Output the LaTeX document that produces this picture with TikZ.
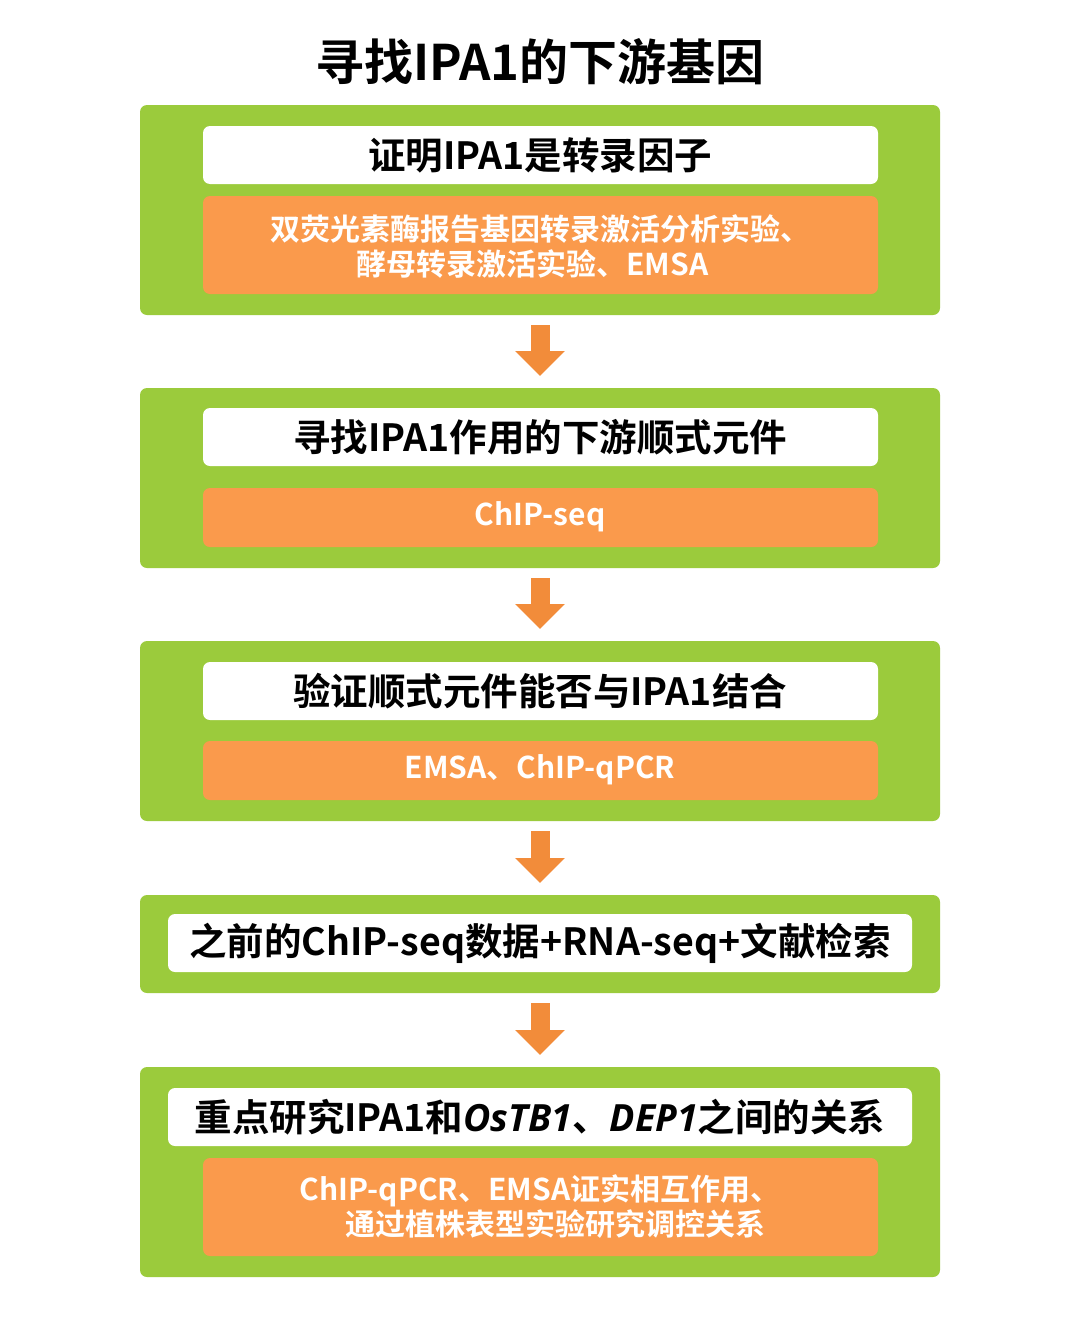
\documentclass[tikz,border=0pt]{standalone}
\usepackage{fontspec}
\setmainfont{Noto Sans CJK SC}[BoldFont={* Bold}]
\newfontfamily\latit{Open Sans}[BoldItalicFont={* Bold Italic}]
\usetikzlibrary{arrows.meta}
\definecolor{gr}{HTML}{9BCB3C}
\definecolor{og}{HTML}{FA9A4C}
\definecolor{ar}{HTML}{F28C3A}
\tikzset{
 grbox/.style={fill=gr,rounded corners=7pt,inner sep=0},
 whbox/.style={fill=white,rounded corners=7pt,font=\fontsize{37.5}{42}\selectfont\bfseries,text=black},
 obox/.style={fill=og,rounded corners=7pt,font=\fontsize{30}{35}\selectfont\bfseries,text=white,align=center},
 arr/.style={ar,line width=19pt,-{Triangle[width=48pt,length=25pt]},shorten <=10pt,shorten >=12pt}
}
\begin{document}
\begin{tikzpicture}[x=1pt,y=-1pt]
\useasboundingbox (0,0) rectangle (1080,1317);
\node[font=\fontsize{49}{54}\selectfont\bfseries] (title) at (540,62) {寻找IPA1的下游基因};
% box1
\fill[grbox] (140,105) rectangle (940,315);
\coordinate (b1t) at (540,105); \coordinate (b1b) at (540,315);
\fill[white,rounded corners=7pt] (203,126) rectangle (878,184);
\node[whbox] (w1) at (540,155) {证明IPA1是转录因子};
\fill[og,rounded corners=7pt] (203,196) rectangle (878,294);
\node[obox] (o1) at (540,246) {双荧光素酶报告基因转录激活分析实验、\\\hspace*{-0.5em}酵母转录激活实验、EMSA};
% box2
\fill[grbox] (140,388) rectangle (940,568);
\coordinate (b2t) at (540,388); \coordinate (b2b) at (540,568);
\fill[white,rounded corners=7pt] (203,408) rectangle (878,466);
\node[whbox] (w2) at (540,437) {寻找IPA1作用的下游顺式元件};
\fill[og,rounded corners=7pt] (203,488) rectangle (878,547);
\node[obox] (o2) at (540,517) {ChIP-seq};
% box3
\fill[grbox] (140,641) rectangle (940,821);
\coordinate (b3t) at (540,641); \coordinate (b3b) at (540,821);
\fill[white,rounded corners=7pt] (203,662) rectangle (878,720);
\node[whbox] (w3) at (540,691) {验证顺式元件能否与IPA1结合};
\fill[og,rounded corners=7pt] (203,741) rectangle (878,800);
\node[obox] (o3) at (540,770) {EMSA、ChIP-qPCR};
% box4
\fill[grbox] (140,895) rectangle (940,993);
\coordinate (b4t) at (540,895); \coordinate (b4b) at (540,993);
\fill[white,rounded corners=7pt] (168,914) rectangle (912,972);
\node[whbox] (w4) at (540,943) {之前的ChIP-seq数据+RNA-seq+文献检索};
% box5
\fill[grbox] (140,1067) rectangle (940,1277);
\coordinate (b5t) at (540,1067);
\fill[white,rounded corners=7pt] (168,1088) rectangle (912,1146);
\node[whbox] (w5) at (540,1117) {重点研究IPA1和{\latit\bfseries\itshape OsTB1}、{\latit\bfseries\itshape DEP1}之间的关系};
\fill[og,rounded corners=7pt] (203,1158) rectangle (878,1256);
\node[obox] (o5) at (540,1207) {ChIP-qPCR、EMSA证实相互作用、\\\hspace*{1em}通过植株表型实验研究调控关系};
% arrows
\draw[arr] (b1b) -- (b2t);
\draw[arr] (b2b) -- (b3t);
\draw[arr] (b3b) -- (b4t);
\draw[arr] (b4b) -- (b5t);
\end{tikzpicture}
\end{document}
